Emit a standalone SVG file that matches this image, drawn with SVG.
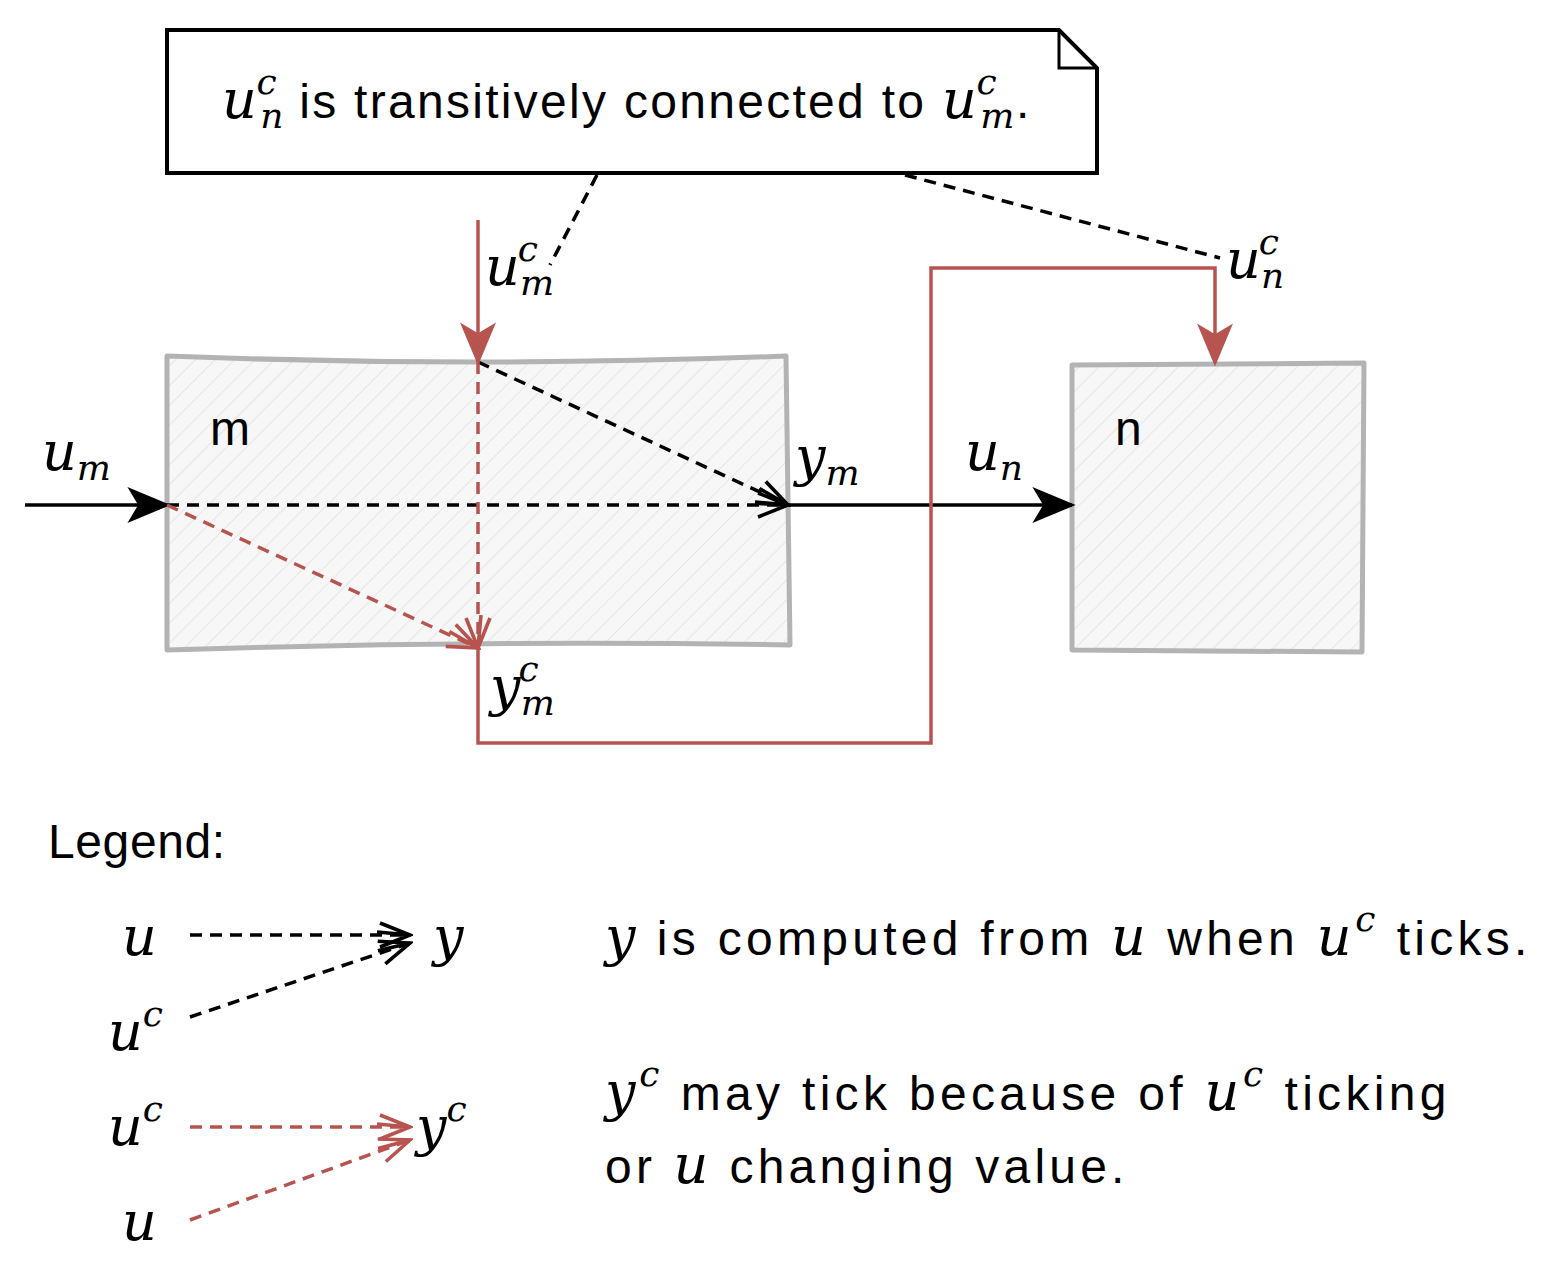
<svg xmlns="http://www.w3.org/2000/svg" width="1552" height="1271" viewBox="0 0 1552 1271">
<style>
.t{font-family:"Liberation Sans",Arial,sans-serif;font-size:48px;letter-spacing:0.6px;fill:#000;font-style:normal}
.m{font-family:"DejaVu Serif","Liberation Serif",serif;font-style:italic;font-size:54px;fill:#000}
.s{font-size:36px}
.box{stroke:#b3b3b3;stroke-width:5;fill:url(#h);stroke-linejoin:round}
.k{stroke:#000;stroke-width:3.5;fill:none}
.r{stroke:#b85450;stroke-width:3.5;fill:none}
.d{stroke-dasharray:12 8}
</style>
<defs>
<pattern id="h" width="14" height="14" patternUnits="userSpaceOnUse" patternTransform="rotate(45)">
<rect width="14" height="14" fill="#f7f7f7"/><line x1="0" y1="0" x2="0" y2="14" stroke="#e6e6e6" stroke-width="2"/>
</pattern>
<marker id="bk" viewBox="0 0 12 10" markerWidth="44" markerHeight="36" refX="11" refY="5" orient="auto" markerUnits="userSpaceOnUse"><path d="M0,0 L12,5 L0,10 L3,5 Z" fill="#000"/></marker>
<marker id="br" viewBox="0 0 12 10" markerWidth="44" markerHeight="36" refX="11" refY="5" orient="auto" markerUnits="userSpaceOnUse"><path d="M0,0 L12,5 L0,10 L3,5 Z" fill="#b85450"/></marker>
<marker id="ok" viewBox="0 0 12 10" markerWidth="36" markerHeight="30" refX="11" refY="5" orient="auto" markerUnits="userSpaceOnUse"><path d="M1,1 L11,5 L1,9 M0,4 L11,5" fill="none" stroke="#000" stroke-width="1.2"/></marker>
<marker id="or" viewBox="0 0 12 10" markerWidth="36" markerHeight="30" refX="11" refY="5" orient="auto" markerUnits="userSpaceOnUse"><path d="M1,1 L11,5 L1,9 M0,4 L11,5" fill="none" stroke="#b85450" stroke-width="1.2"/></marker>
</defs>
<g id="note">
<path d="M167,30 L1059,30 L1097,68 L1097,173 L167,173 Z" fill="#fff" stroke="#000" stroke-width="4"/>
<path d="M1059,30 L1059,68 L1097,68" fill="none" stroke="#000" stroke-width="3"/>
<text x="222" y="118" textLength="808" lengthAdjust="spacing"><tspan class="m">u</tspan><tspan class="m s" dx="-2" dy="-24">c</tspan><tspan class="m s" dx="-18" dy="34">n</tspan><tspan class="t" dx="14" dy="-10">is transitively connected to </tspan><tspan class="m">u</tspan><tspan class="m s" dx="-2" dy="-24">c</tspan><tspan class="m s" dx="-18" dy="34">m</tspan><tspan class="t" dy="-10">.</tspan></text>
</g>
<g id="m"><path class="box" d="M167,356 Q480,368 786,356 L790,645 Q480,640 167,650 Z"/><text class="t" x="210" y="445">m</text></g>
<g id="n"><path class="box" d="M1072,365 L1364,363 L1362,652 L1072,650 Z"/><text class="t" x="1115" y="445">n</text></g>
<g id="connectors">
<line class="k" x1="25" y1="505" x2="167" y2="505" marker-end="url(#bk)"/>
<line class="k d" x1="167" y1="505" x2="788" y2="505" marker-end="url(#ok)"/>
<line class="k d" x1="478" y1="362" x2="788" y2="505" marker-end="url(#ok)"/>
<line class="r d" x1="478" y1="362" x2="478" y2="648" marker-end="url(#or)"/>
<line class="r d" x1="167" y1="505" x2="478" y2="648" marker-end="url(#or)"/>
<line class="r" x1="478" y1="220" x2="478" y2="362" marker-end="url(#br)"/>
<line class="k" x1="788" y1="505" x2="1072" y2="505" marker-end="url(#bk)"/>
<path class="r" d="M478,648 L478,743 L931,743 L931,268 L1215,268 L1215,363" marker-end="url(#br)"/>
<line class="k d" x1="597" y1="175" x2="550" y2="265"/>
<line class="k d" x1="905" y1="175" x2="1220" y2="258"/>
<line class="k d" x1="190" y1="935" x2="410" y2="935" marker-end="url(#ok)"/>
<line class="k d" x1="190" y1="1017" x2="410" y2="943" marker-end="url(#ok)"/>
<line class="r d" x1="190" y1="1127" x2="410" y2="1127" marker-end="url(#or)"/>
<line class="r d" x1="190" y1="1220" x2="410" y2="1140" marker-end="url(#or)"/>
</g>
<g id="labels">
<text x="42" y="470"><tspan class="m">u</tspan><tspan class="m s" dy="10">m</tspan></text>
<text x="795" y="475"><tspan class="m">y</tspan><tspan class="m s" dy="10">m</tspan></text>
<text x="965" y="470"><tspan class="m">u</tspan><tspan class="m s" dy="10">n</tspan></text>
<text x="485" y="285"><tspan class="m">u</tspan><tspan class="m s" dx="-2" dy="-24">c</tspan><tspan class="m s" dx="-18" dy="34">m</tspan></text>
<text x="490" y="705"><tspan class="m">y</tspan><tspan class="m s" dx="-2" dy="-24">c</tspan><tspan class="m s" dx="-18" dy="34">m</tspan></text>
<text x="1226" y="278"><tspan class="m">u</tspan><tspan class="m s" dx="-2" dy="-24">c</tspan><tspan class="m s" dx="-18" dy="34">n</tspan></text>
<text class="t" x="48" y="858">Legend:</text>
<text class="m" x="122" y="955">u</text>
<text class="m" x="433" y="955">y</text>
<text x="108" y="1050"><tspan class="m">u</tspan><tspan class="m s" dy="-24">c</tspan></text>
<text x="108" y="1145"><tspan class="m">u</tspan><tspan class="m s" dy="-24">c</tspan></text>
<text x="416" y="1145"><tspan class="m">y</tspan><tspan class="m s" dy="-24">c</tspan></text>
<text class="m" x="122" y="1240">u</text>
<text x="605" y="955" textLength="923" lengthAdjust="spacing"><tspan class="m">y</tspan><tspan class="t"> is computed from </tspan><tspan class="m">u</tspan><tspan class="t"> when </tspan><tspan class="m">u</tspan><tspan class="m s" dy="-24">c</tspan><tspan class="t" dy="24"> ticks.</tspan></text>
<text x="605" y="1110" textLength="842" lengthAdjust="spacing"><tspan class="m">y</tspan><tspan class="m s" dy="-24">c</tspan><tspan class="t" dy="24"> may tick because of </tspan><tspan class="m">u</tspan><tspan class="m s" dy="-24">c</tspan><tspan class="t" dy="24"> ticking</tspan></text>
<text x="605" y="1183" textLength="520" lengthAdjust="spacing"><tspan class="t">or </tspan><tspan class="m">u</tspan><tspan class="t"> changing value.</tspan></text>
</g>
</svg>
